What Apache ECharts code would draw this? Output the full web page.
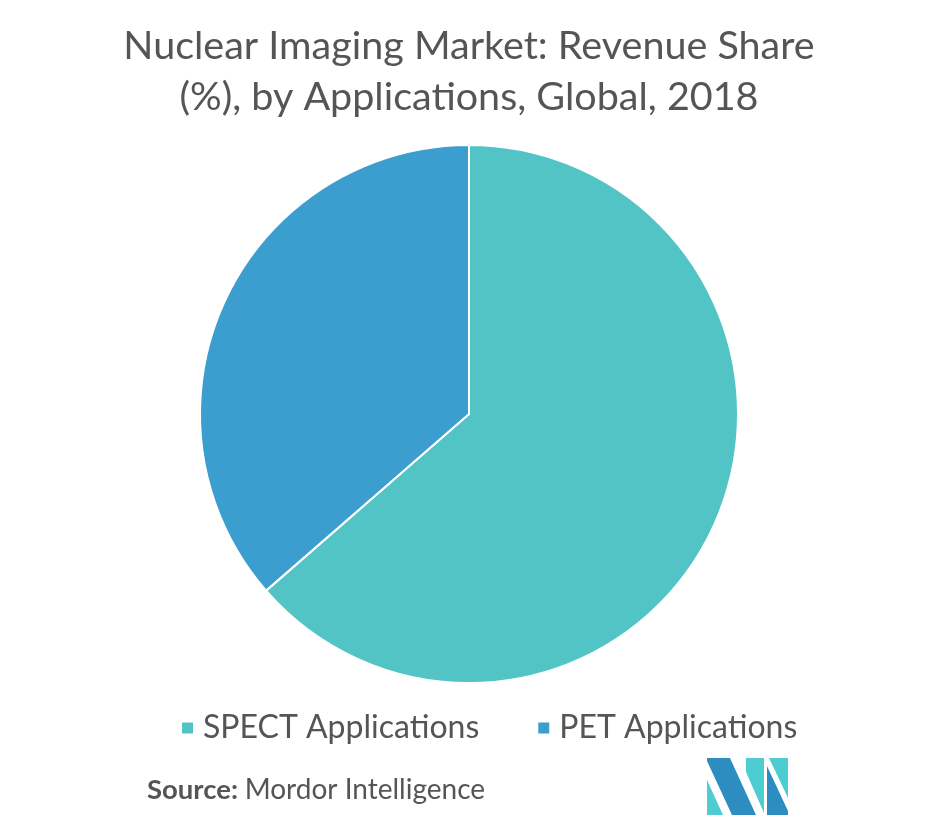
<!DOCTYPE html>
<html><head><meta charset="utf-8">
<script src="https://cdn.jsdelivr.net/npm/echarts@6/dist/echarts.min.js"></script>
<style>html,body{margin:0;padding:0;background:#fff}#c{width:938px;height:828px}</style>
</head><body><div id="c"></div>
<script>
const categories = ["SPECT Applications", "PET Applications"];
const shares = [63.6, 36.4];
const colors = ["#52C4C6", "#3C9ECF"];
const titleText = "Nuclear Imaging Market: Revenue Share\n(%), by Applications, Global, 2018";

const chart = echarts.init(document.getElementById('c'));
chart.setOption({
  animation: false,
  title: {
    text: titleText, left: 'center', top: 16,
    textStyle: {fontFamily: 'Lato', fontSize: 39.5, fontWeight: 'normal', color: '#555555', lineHeight: 51}
  },
  legend: {
    bottom: 79, left: 175, itemWidth: 13, itemHeight: 13, itemGap: 57,
    icon: 'rect',
    textStyle: {fontFamily: 'Lato', fontSize: 32, color: '#555555', padding: [0,0,0,4]},
    data: categories
  },
  color: colors,
  series: [{
    type: 'pie', center: [469, 414], radius: 269, startAngle: 90, clockwise: true,
    label: {show: false}, labelLine: {show: false},
    itemStyle: {borderColor: '#fff', borderWidth: 2},
    data: categories.map((c, i) => ({name: c, value: shares[i]}))
  }],
  graphic: [
    {type: 'text', left: 147, top: 776, style: {
      rich: {b: {fontFamily: 'Lato', fontWeight: 'bold', fontSize: 27.5, fill: '#555555'},
             n: {fontFamily: 'Lato', fontSize: 28, fill: '#555555'}},
      text: '{b|Source:}  {n|Mordor Intelligence}'}},
    {type: 'group', left: 707, top: 758, children: [
      {type: 'polygon', shape: {points: [[0,0],[23,0],[49,57],[25,57],[0,3]]}, style: {fill: '#2E8DC0'}},
      {type: 'polygon', shape: {points: [[0,22],[0,57],[16,57]]}, style: {fill: '#4ECDD0'}},
      {type: 'polygon', shape: {points: [[39,0],[57,0],[57,55],[39,14]]}, style: {fill: '#4ECDD0'}},
      {type: 'polygon', shape: {points: [[60,0],[81,0],[81,40],[62,0]]}, style: {fill: '#4ECDD0'}},
      {type: 'polygon', shape: {points: [[60,8],[81,53],[81,57],[60,57]]}, style: {fill: '#2E8DC0'}}
    ]}
  ]
});
</script></body></html>
